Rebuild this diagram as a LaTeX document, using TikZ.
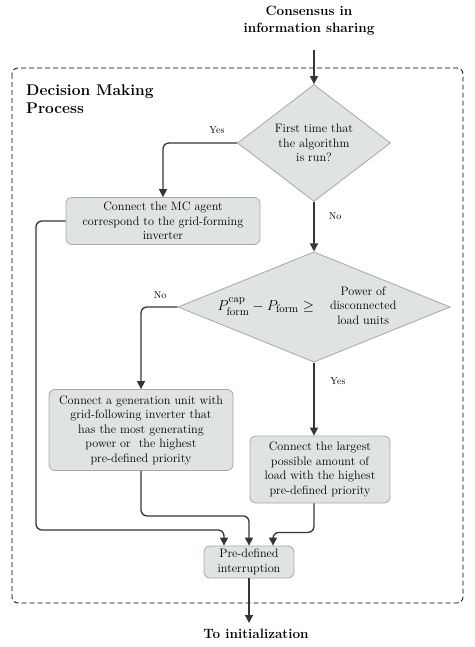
\documentclass[tikz,border=0pt]{standalone}
\usepackage{amsmath}
\usepackage{amssymb}
\usepackage{tikz}
\usetikzlibrary{shapes.geometric,arrows.meta}
\definecolor{boxfill}{HTML}{E0E3E3}
\definecolor{boxline}{HTML}{A6A8A8}
\definecolor{arrline}{HTML}{353535}
\begin{document}
\begin{tikzpicture}[x=1pt, y=-1pt,
	every node/.style={font=\fontsize{12.2}{14.5}\selectfont, align=center, inner sep=0pt},
	procbox/.style={rectangle, rounded corners=6pt, draw=boxline, fill=boxfill, thick},
	decbox/.style={diamond, draw=boxline, fill=boxfill, thick},
	flowlabel/.style={font=\fontsize{10}{12}\selectfont},
	headline/.style={font=\fontsize{13.5}{17}\selectfont\bfseries},
	arr/.style={draw=arrline, line width=1.3pt, rounded corners=6pt, -{Triangle[length=8pt,width=8pt]}}]
	\useasboundingbox (0,0) rectangle (474,647);
	\draw[dashed, line width=0.8pt, dash pattern=on 5pt off 3pt, rounded corners=6pt] (12,68) rectangle (463,603);
	\node[headline] (start) at (309,21){Consensus in\\information sharing};
	\node[headline, font=\fontsize{15.5}{18}\selectfont\bfseries, align=left, anchor=west] (title) at (26,99){Decision Making\\Process};
	\node[decbox, aspect=1.31, minimum width=153, minimum height=117] (d1) at (314,143){First time that\\the algorithm\\is run?};
	\node[decbox, aspect=2.47, minimum width=269, minimum height=109] (d2) at (314,307){\hspace*{-14pt}$\displaystyle\mbox{\fontsize{15}{15}\selectfont$P^{\mathrm{cap}}_{\mathrm{form}} - P_{\mathrm{form}} \geq$}$\hspace{16pt}\begin{tabular}{@{}c@{}}Power of\\disconnected\\load units\end{tabular}};
	\node[procbox, minimum width=194, minimum height=47] (b1) at (163,221){Connect the MC agent\\correspond to the grid-forming\\inverter};
	\node[procbox, minimum width=184, minimum height=81] (b2) at (141,430){Connect a generation unit with\\grid-following inverter that\\has the most generating\\power or \ the highest\\pre-defined priority};
	\node[procbox, minimum width=140, minimum height=67] (b3) at (320,469.5){Connect the largest\\possible amount of\\load with the highest\\pre-defined priority};
	\node[procbox, minimum width=90, minimum height=32] (b4) at (249,562){Pre-defined\\interruption};
	\node[headline] (stop) at (256,634){To initialization};
	\node[flowlabel] (l1) at (217,130){Yes};
	\node[flowlabel] (l2) at (335,216){No};
	\node[flowlabel] (l3) at (160,295){No};
	\node[flowlabel] (l4) at (338,381){Yes};
	\coordinate (in) at (314,50);
	\coordinate (out) at (249,623);
	\coordinate (j1) at (36,530);

	\path[arr] (in) -- (d1.north);
	\path[arr] (d1.west) -| (b1.north);
	\path[arr] (d1.south) -- (d2.north);
	\path[arr] (d2.west) -| (b2.north);
	\path[arr] (d2.south) -- (d2.south |- b3.north);
	\path[arr] (b1.west) -| (j1) -| ([xshift=-25pt]b4.north);
	\path[arr] (b2.south) -- ++(0,45) -| (b4.north);
	\path[arr] (d2.south |- b3.south) -- ++(0,29) -| ([xshift=24pt]b4.north);
	\path[arr] (b4.south) -- (out);
\end{tikzpicture}
\end{document}
